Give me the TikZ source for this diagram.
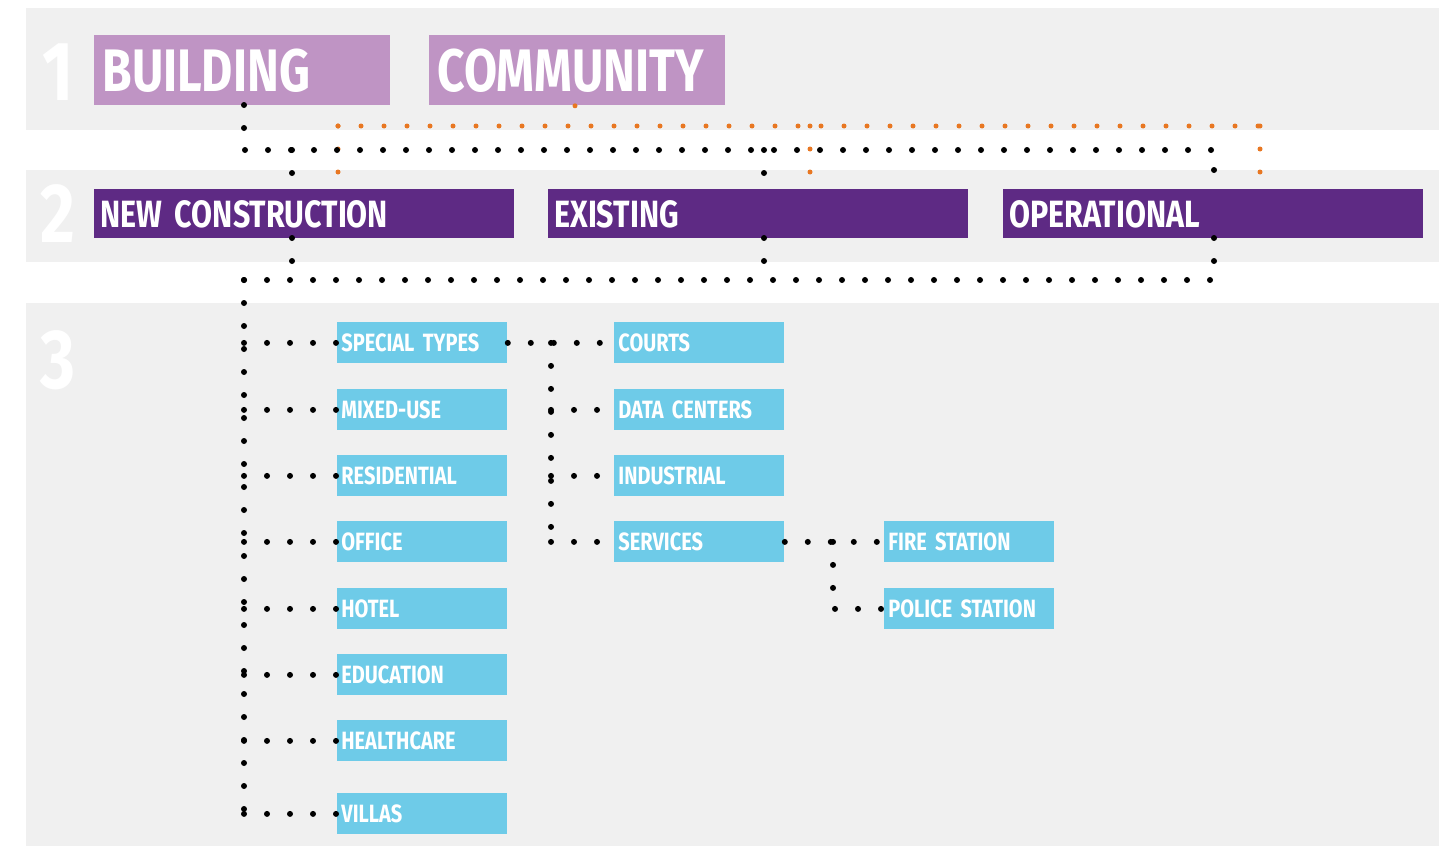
\documentclass[tikz,border=0pt]{standalone}
\usepackage{fontspec}
\setmainfont{Fira Sans}[FakeStretch=0.8]
\usetikzlibrary{calc}
\definecolor{band}{HTML}{F0F0F0}
\definecolor{lpur}{HTML}{BF94C4}
\definecolor{dpur}{HTML}{5E2A84}
\definecolor{cyanb}{HTML}{6ECBE8}
\definecolor{orng}{HTML}{E87722}
\tikzset{
 lbox/.style={fill=lpur,anchor=north west,minimum width=148pt,minimum height=35pt,text width=140pt,inner sep=4pt,align=left,text=white,font=\bfseries\fontsize{30}{30}\selectfont},
 pbox/.style={fill=dpur,anchor=north west,minimum width=210pt,minimum height=24.5pt,text width=204pt,inner sep=3pt,align=left,text=white,font=\bfseries\fontsize{19}{19}\selectfont},
 cbox/.style={fill=cyanb,anchor=north west,minimum width=85pt,minimum height=20.5pt,text width=81pt,inner sep=2pt,align=left,text=white,font=\bfseries\fontsize{12.5}{12.5}\selectfont},
 num/.style={text=white,font=\bfseries\fontsize{42}{42}\selectfont},
 bdot/.style={line width=3pt,line cap=round,dash pattern=on 0pt off 11.5pt},
 odot/.style={bdot,orng,line width=2.5pt},
}
\begin{document}
\begin{tikzpicture}[x=0.5pt,y=-0.5pt]
\useasboundingbox (0,0) rectangle (1439,846);
\fill[white] (0,0) rectangle (1439,846);
\fill[band] (26,8) rectangle (1439,130);
\fill[band] (26,170) rectangle (1439,262);
\fill[band] (26,303) rectangle (1439,846);
\node[num] (n1) at (58,72) {1};
\node[num] (n2) at (58,214) {2};
\node[num] (n3) at (58,360) {3};
\node[lbox] (bld) at (94,35) {BUILDING};
\node[lbox] (com) at (429,35) {COMMUNITY};
\node[pbox] (nc) at (94,189) {NEW CONSTRUCTION};
\node[pbox] (ex) at (548,189) {EXISTING};
\node[pbox] (op) at (1003,189) {OPERATIONAL};
\foreach \n/\y/\t in {st/322/SPECIAL TYPES,mu/389/MIXED-USE,re/455/RESIDENTIAL,of/521/OFFICE,ho/588/HOTEL,ed/654/EDUCATION,hc/720/HEALTHCARE,vi/793/VILLAS}
 \node[cbox] (\n) at (337,\y) {\t};
\foreach \n/\y/\t in {co/322/COURTS,dc/389/DATA CENTERS,in/455/INDUSTRIAL,se/521/SERVICES}
 \node[cbox] (\n) at (614,\y) {\t};
\node[cbox] (fs) at (884,521) {FIRE STATION};
\node[cbox] (ps) at (884,588) {POLICE STATION};
% orange
\coordinate (oa) at (338,126); \coordinate (ob) at (1260,126);
\draw[odot] (com.south -| 575,0) -- (575,126);
\draw[odot] (oa) -- (ob);
\draw[odot] (oa) -- (338,189);
\draw[odot] (810,126) -- (810,189);
\draw[odot] (ob) -- (1260,189);
% black upper
\coordinate (ba) at (244,150); \coordinate (bb) at (1214,150);
\draw[bdot] (244,105) -- (ba) -- (bb) -- (1214,189);
\draw[bdot] (292,150) -- (292,189);
\draw[bdot] (764,150) -- (764,189);
% black lower
\coordinate (la) at (244,280); \coordinate (lb) at (1214,280);
\draw[bdot] (1214,238) -- (lb) -- (la);
\draw[bdot] (292,238) -- (292,280);
\draw[bdot] (764,238) -- (764,280);
\draw[bdot] (la) -- (244,813);
\foreach \n in {st,mu,re,of,ho,ed,hc,vi}
 \draw[bdot] (244,0 |- \n.west) -- (\n.west);
\draw[bdot] (st.east) -- (co.west);
\draw[bdot] (551,0 |- co.west) -- (551,0 |- se.west);
\foreach \n in {dc,in,se}
 \draw[bdot] (551,0 |- \n.west) -- (\n.west);
\draw[bdot] (se.east) -- (fs.west);
\draw[bdot] (833,0 |- fs.west) -- (833,0 |- ps.west) -- (ps.west);
\end{tikzpicture}
\end{document}
